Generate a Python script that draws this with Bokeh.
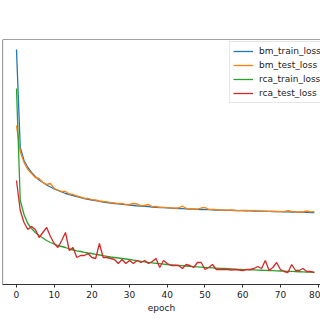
from bokeh.plotting import figure
from bokeh.models import Span, Legend, LegendItem, FixedTicker, Range1d, Title
from bokeh.embed import file_html
from bokeh.resources import INLINE

epochs = list(range(80))

bm_train_loss = [2.35, 1.37, 1.24, 1.17, 1.12, 1.08, 1.045, 1.02, 0.995, 0.975,
                 0.955, 0.94, 0.925, 0.91, 0.90, 0.89, 0.88, 0.87, 0.86, 0.852,
                 0.845, 0.838, 0.831, 0.825, 0.82, 0.815, 0.81, 0.806, 0.802, 0.798,
                 0.794, 0.79, 0.787, 0.784, 0.781, 0.778, 0.775, 0.772, 0.77, 0.768,
                 0.766, 0.764, 0.762, 0.76, 0.758, 0.756, 0.754, 0.753, 0.752, 0.75,
                 0.749, 0.748, 0.746, 0.745, 0.744, 0.743, 0.742, 0.741, 0.74, 0.739,
                 0.738, 0.737, 0.736, 0.735, 0.734, 0.733, 0.732, 0.731, 0.73, 0.729,
                 0.728, 0.727, 0.726, 0.725, 0.724, 0.723, 0.722, 0.721, 0.72, 0.72]

bm_test_loss = [1.59, 1.33, 1.22, 1.15, 1.11, 1.07, 1.06, 1.02, 1.00, 1.01,
                0.96, 0.945, 0.93, 0.93, 0.905, 0.90, 0.885, 0.875, 0.862, 0.86,
                0.848, 0.845, 0.835, 0.83, 0.826, 0.818, 0.815, 0.808, 0.812, 0.80,
                0.80, 0.81, 0.805, 0.788, 0.79, 0.80, 0.778, 0.78, 0.772, 0.771,
                0.768, 0.766, 0.763, 0.765, 0.785, 0.76, 0.756, 0.755, 0.754, 0.765,
                0.77, 0.752, 0.75, 0.748, 0.746, 0.744, 0.743, 0.745, 0.741, 0.739,
                0.742, 0.74, 0.738, 0.742, 0.736, 0.734, 0.733, 0.732, 0.731, 0.73,
                0.729, 0.728, 0.738, 0.73, 0.727, 0.726, 0.725, 0.735, 0.726, 0.728]

rca_train_loss = [1.96, 0.84, 0.70, 0.61, 0.56, 0.52, 0.49, 0.465, 0.44, 0.42,
                  0.405, 0.39, 0.38, 0.37, 0.355, 0.345, 0.337, 0.33, 0.322, 0.315,
                  0.31, 0.302, 0.295, 0.288, 0.282, 0.275, 0.27, 0.265, 0.26, 0.255,
                  0.25, 0.244, 0.238, 0.232, 0.226, 0.22, 0.216, 0.212, 0.208, 0.204,
                  0.20, 0.197, 0.194, 0.191, 0.188, 0.185, 0.182, 0.179, 0.176, 0.173,
                  0.17, 0.168, 0.166, 0.164, 0.162, 0.16, 0.158, 0.156, 0.154, 0.152,
                  0.15, 0.1485, 0.147, 0.1455, 0.144, 0.1425, 0.141, 0.1395, 0.138, 0.1365,
                  0.135, 0.1335, 0.132, 0.1305, 0.129, 0.1275, 0.126, 0.1245, 0.123, 0.122]

rca_test_loss = [1.04, 0.74, 0.62, 0.55, 0.58, 0.55, 0.47, 0.52, 0.57, 0.48,
                 0.41, 0.37, 0.44, 0.52, 0.34, 0.37, 0.27, 0.29, 0.29, 0.31,
                 0.27, 0.26, 0.41, 0.27, 0.27, 0.26, 0.25, 0.21, 0.25, 0.21,
                 0.24, 0.21, 0.24, 0.22, 0.24, 0.21, 0.23, 0.26, 0.17, 0.24,
                 0.21, 0.19, 0.19, 0.19, 0.16, 0.20, 0.19, 0.17, 0.22, 0.22,
                 0.15, 0.17, 0.20, 0.15, 0.15, 0.15, 0.15, 0.145, 0.15, 0.145,
                 0.14, 0.15, 0.15, 0.16, 0.18, 0.16, 0.24, 0.14, 0.17, 0.22,
                 0.15, 0.13, 0.12, 0.20, 0.14, 0.14, 0.16, 0.13, 0.13, 0.12]

series_names = ["bm_train_loss", "bm_test_loss", "rca_train_loss", "rca_test_loss"]
series_values = [bm_train_loss, bm_test_loss, rca_train_loss, rca_test_loss]
series_colors = ["#1f77b4", "#ff7f0e", "#2ca02c", "#d62728"]
x_ticks = [0, 10, 20, 30, 40, 50, 60, 70, 80]
x_label = "epoch"

FONT = "DejaVu Sans"

p = figure(width=320, height=320, output_backend="svg", toolbar_location=None,
           x_range=Range1d(-3.71, 80.64), y_range=Range1d(0, 2.45),
           min_border_left=2, min_border_right=0, min_border_top=39,
           min_border_bottom=36,
           background_fill_color="white", border_fill_color="white")
p.outline_line_color = None
p.grid.visible = False
p.yaxis.visible = False

xa = p.xaxis[0]
xa.ticker = FixedTicker(ticks=x_ticks)
xa.minor_tick_line_color = None
xa.major_tick_in = 0
xa.major_tick_out = 3
xa.axis_line_color = "#333333"
xa.major_tick_line_color = "#333333"
xa.major_label_text_font = FONT
xa.major_label_text_font_size = "9px"
xa.major_label_text_color = "#222222"
xa.major_label_standoff = 3

p.add_layout(Title(text=x_label, align="center", text_font=FONT,
                   text_font_size="9px", text_font_style="normal",
                   text_color="#222222", standoff=0, offset=4), "below")

p.add_layout(Span(location=p.x_range.start, dimension="height",
                  line_color="#444444", line_width=1.2))
p.add_layout(Span(location=p.y_range.end, dimension="width",
                  line_color="#444444", line_width=1))

items = []
for name, vals, col in zip(series_names, series_values, series_colors):
    r = p.line(epochs, vals, line_color=col, line_width=1.3)
    items.append(LegendItem(label=name, renderers=[r]))

legend = Legend(items=items, location=(227, 181),
                label_text_font=FONT, label_text_font_size="9px",
                label_text_color="#222222",
                glyph_width=20, glyph_height=12, label_height=12,
                label_standoff=6, spacing=2, padding=3, margin=0,
                border_line_color="#cccccc", border_line_width=1,
                background_fill_color="white", background_fill_alpha=0.9)
p.add_layout(legend)

open("out.html", "w").write(file_html(p, INLINE))
